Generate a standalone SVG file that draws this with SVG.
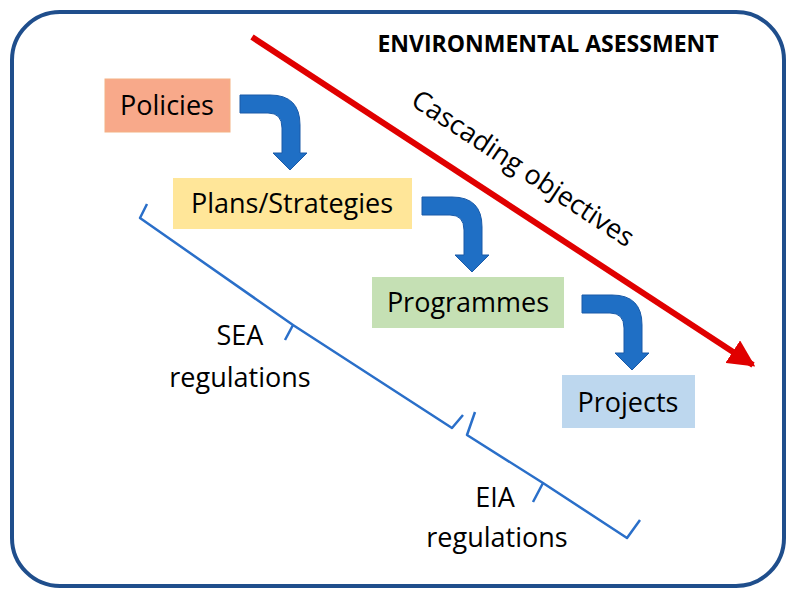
<svg xmlns="http://www.w3.org/2000/svg" width="796" height="600" viewBox="0 0 796 600">
<defs>
<style>
text{font-family:"Open Sans","Liberation Sans",sans-serif;fill:#000}
.lbl{font-size:27px;text-anchor:middle}
.brace{fill:none;stroke:#2a6fc9;stroke-width:2.5;stroke-linejoin:round}
.flow{fill:#1f6fc5;stroke:#1a5aa8;stroke-width:1}
</style>
<marker id="red" viewBox="0 0 10 10" refX="9" refY="5" markerWidth="4.5" markerHeight="4.5" orient="auto" markerUnits="strokeWidth"><path d="M0,0 L10,5 L0,10 Z" fill="#e00000"/></marker>
<path id="bend" d="M240,95 L270,95 Q300,95 300,125 L300,153 L307,153 L290,170 L273,153 L282,153 L282,128 Q282,113 268,113 L240,113 Z"/>
</defs>
<rect x="12" y="12" width="772" height="574" rx="48" fill="#fff" stroke="#1f4e8c" stroke-width="4"/>
<text x="548" y="52" font-size="23" font-weight="bold" text-anchor="middle">ENVIRONMENTAL ASESSMENT</text>
<g id="connectors">
<use href="#bend" class="flow"/>
<use href="#bend" class="flow" transform="translate(182,102)"/>
<use href="#bend" class="flow" transform="translate(342,200)"/>
<line x1="252" y1="37" x2="753" y2="365" stroke="#e00000" stroke-width="6" marker-end="url(#red)"/>
<path class="brace" d="M147,204 L140,218 L293,325 L285,340 M293,325 L452,428 L463,415"/>
<path class="brace" d="M475,412 L467,435 L543,483 L533,502 M543,483 L627,538 L640,520"/>
</g>
<text x="518" y="176" font-size="27" text-anchor="middle" transform="rotate(33.5 518 176)">Cascading objectives</text>
<g id="policies"><rect x="105" y="79" width="125" height="53" fill="#f8a98a" stroke="#f4b183"/><text class="lbl" x="167" y="115">Policies</text></g>
<g id="plans"><rect x="173" y="178" width="239" height="51" fill="#ffe699"/><text class="lbl" x="292" y="213">Plans/Strategies</text></g>
<g id="programmes"><rect x="372" y="277" width="192" height="51" fill="#c5e0b4"/><text class="lbl" x="468" y="312">Programmes</text></g>
<g id="projects"><rect x="562" y="375" width="133" height="53" fill="#bdd7ee"/><text class="lbl" x="628" y="412">Projects</text></g>
<g id="sea"><text class="lbl" x="240" y="345">SEA</text><text class="lbl" x="240" y="387">regulations</text></g>
<g id="eia"><text class="lbl" x="495" y="507">EIA</text><text class="lbl" x="497" y="547">regulations</text></g>
</svg>
